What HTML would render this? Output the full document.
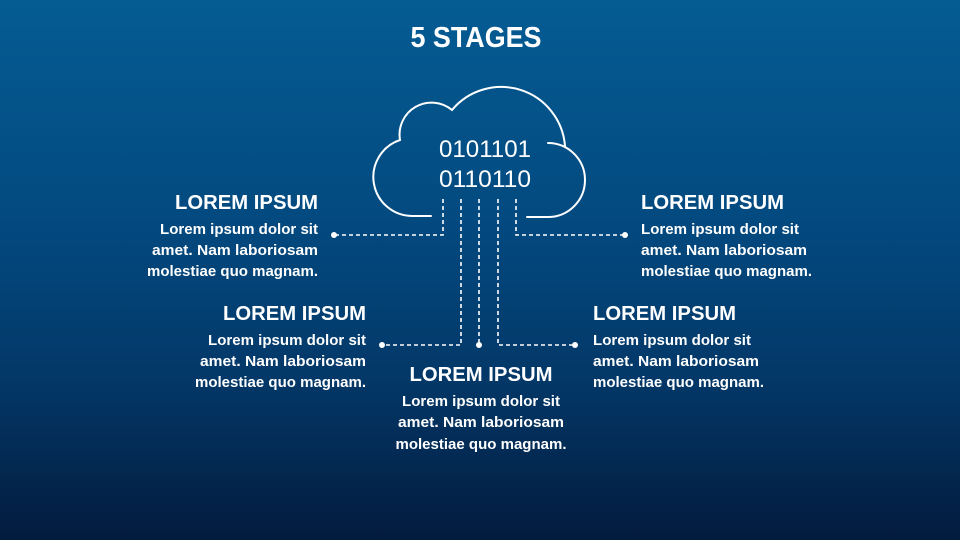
<!DOCTYPE html>
<html><head><meta charset="utf-8"><style>
html,body{margin:0;padding:0;width:960px;height:540px;overflow:hidden}
body{background:linear-gradient(180deg,#045c93 0%,#034a80 40%,#033868 70%,#031b3d 100%)}
svg{display:block}
text{font-family:"Liberation Sans",sans-serif;fill:#fff;font-weight:bold}
</style></head><body>
<svg width="960" height="540" viewBox="0 0 960 540">
<text x="476" y="47" font-size="29" text-anchor="middle" textLength="131" lengthAdjust="spacingAndGlyphs">5 STAGES</text>
<g fill="none" stroke="#fff" stroke-width="2" stroke-linecap="round">
<path d="M431,216 H412 A39,39 0 0 1 400,140 A32,32 0 0 1 452,110 A64,64 0 0 1 565,146"/>
<path d="M548,143 A37,37 0 0 1 548,217 H527"/>
</g>
<text x="485" y="157" font-size="24" style="font-weight:normal" text-anchor="middle" textLength="92" lengthAdjust="spacingAndGlyphs">0101101</text>
<text x="485" y="187" font-size="24" style="font-weight:normal" text-anchor="middle" textLength="92" lengthAdjust="spacingAndGlyphs">0110110</text>
<g fill="none" stroke="#fff" stroke-width="1.6" stroke-dasharray="4,3">
<path d="M443,199 V235 H336"/>
<path d="M516,199 V235 H622"/>
<path d="M461,199 V345 H385"/>
<path d="M479,199 V343"/>
<path d="M498,199 V345 H572"/>
</g>
<g fill="#fff">
<circle cx="334" cy="235" r="3"/><circle cx="625" cy="235" r="3"/>
<circle cx="382" cy="345" r="3"/><circle cx="479" cy="345" r="3"/><circle cx="575" cy="345" r="3"/>
</g>
<g text-anchor="end">
<text x="318" y="209" font-size="20" textLength="143" lengthAdjust="spacingAndGlyphs">LOREM IPSUM</text>
<text x="318" y="234" font-size="15" textLength="158" lengthAdjust="spacingAndGlyphs">Lorem ipsum dolor sit</text>
<text x="318" y="255" font-size="15" textLength="166" lengthAdjust="spacingAndGlyphs">amet. Nam laboriosam</text>
<text x="318" y="276" font-size="15" textLength="171" lengthAdjust="spacingAndGlyphs">molestiae quo magnam.</text>
<text x="366" y="320" font-size="20" textLength="143" lengthAdjust="spacingAndGlyphs">LOREM IPSUM</text>
<text x="366" y="345" font-size="15" textLength="158" lengthAdjust="spacingAndGlyphs">Lorem ipsum dolor sit</text>
<text x="366" y="366" font-size="15" textLength="166" lengthAdjust="spacingAndGlyphs">amet. Nam laboriosam</text>
<text x="366" y="387" font-size="15" textLength="171" lengthAdjust="spacingAndGlyphs">molestiae quo magnam.</text>
</g>
<g text-anchor="start">
<text x="641" y="209" font-size="20" textLength="143" lengthAdjust="spacingAndGlyphs">LOREM IPSUM</text>
<text x="641" y="234" font-size="15" textLength="158" lengthAdjust="spacingAndGlyphs">Lorem ipsum dolor sit</text>
<text x="641" y="255" font-size="15" textLength="166" lengthAdjust="spacingAndGlyphs">amet. Nam laboriosam</text>
<text x="641" y="276" font-size="15" textLength="171" lengthAdjust="spacingAndGlyphs">molestiae quo magnam.</text>
<text x="593" y="320" font-size="20" textLength="143" lengthAdjust="spacingAndGlyphs">LOREM IPSUM</text>
<text x="593" y="345" font-size="15" textLength="158" lengthAdjust="spacingAndGlyphs">Lorem ipsum dolor sit</text>
<text x="593" y="366" font-size="15" textLength="166" lengthAdjust="spacingAndGlyphs">amet. Nam laboriosam</text>
<text x="593" y="387" font-size="15" textLength="171" lengthAdjust="spacingAndGlyphs">molestiae quo magnam.</text>
</g>
<g text-anchor="middle">
<text x="481" y="381" font-size="20" textLength="143" lengthAdjust="spacingAndGlyphs">LOREM IPSUM</text>
<text x="481" y="406" font-size="15" textLength="158" lengthAdjust="spacingAndGlyphs">Lorem ipsum dolor sit</text>
<text x="481" y="427" font-size="15" textLength="166" lengthAdjust="spacingAndGlyphs">amet. Nam laboriosam</text>
<text x="481" y="449" font-size="15" textLength="171" lengthAdjust="spacingAndGlyphs">molestiae quo magnam.</text>
</g>
</svg>
</body></html>
